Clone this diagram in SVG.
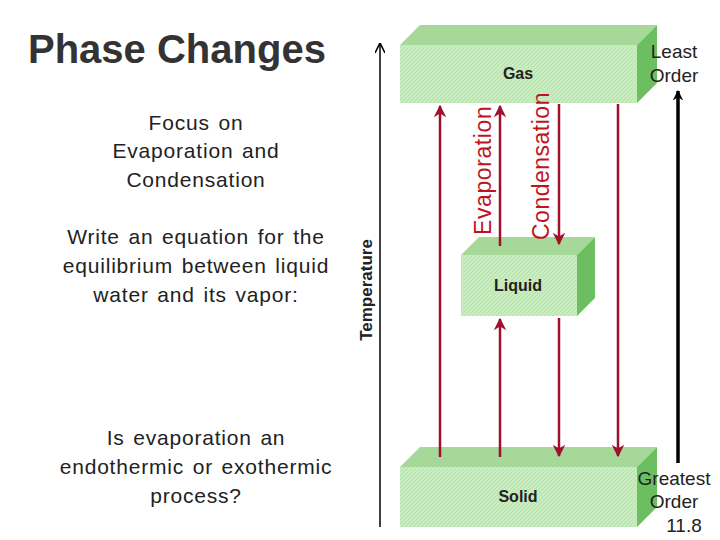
<svg xmlns="http://www.w3.org/2000/svg" width="720" height="540" viewBox="0 0 720 540">
<defs>
<pattern id="hatch" width="4" height="4" patternUnits="userSpaceOnUse"><rect width="4" height="4" fill="#c8eec0"/><path d="M0 4L4 0" stroke="#b4e0aa" stroke-width="1"/></pattern>
<marker id="ar" viewBox="0 0 10 10" refX="9" refY="5" markerWidth="5" markerHeight="5" orient="auto-start-reverse"><path d="M0 0L10 5L0 10L3 5z" fill="#a0102c"/></marker>
<marker id="ak" viewBox="0 0 10 10" refX="9" refY="5" markerWidth="7" markerHeight="7" orient="auto"><path d="M0 0L10 5L0 10" fill="none" stroke="#000" stroke-width="1.5"/></marker>
<marker id="ak2" viewBox="0 0 10 10" refX="9" refY="5" markerWidth="3" markerHeight="3" orient="auto"><path d="M0 0L10 5L0 10L3 5z" fill="#000"/></marker>
</defs>
<style>
.t{font-family:"Liberation Sans",Arial,sans-serif;font-size:21px;letter-spacing:0.8px;word-spacing:2px;fill:#222;text-anchor:middle}
.b{font-family:"Liberation Sans",Arial,sans-serif;font-weight:bold;font-size:16px;fill:#222;text-anchor:middle}
.r{font-family:"Liberation Sans",Arial,sans-serif;font-size:23px;fill:#c0141c}
.top{fill:#a6d89a}.side{fill:#6cbf60}.front{fill:url(#hatch)}
.rl{stroke:#a0102c;stroke-width:2.5;fill:none;marker-end:url(#ar)}
</style>
<rect width="720" height="540" fill="#fff"/>
<text x="28" y="63" style="font-family:'Liberation Sans',Arial,sans-serif;font-weight:bold;font-size:40px;fill:#333">Phase Changes</text>
<g class="t">
<text x="196" y="130">Focus on</text><text x="196" y="158">Evaporation and</text><text x="196" y="187">Condensation</text>
<text x="196" y="244">Write an equation for the</text><text x="196" y="273">equilibrium between liquid</text><text x="196" y="302">water and its vapor:</text>
<text x="196" y="445">Is evaporation an</text><text x="196" y="474">endothermic or exothermic</text><text x="196" y="503">process?</text>
</g>
<g id="gas"><polygon class="top" points="400,45 420,25 657,25 637,45"/><polygon class="side" points="637,45 657,25 657,83 637,103"/><rect class="front" x="400" y="45" width="237" height="58"/><text class="b" x="518" y="79">Gas</text></g>
<g id="liquid"><polygon class="top" points="461,255 479,237 595,237 577,255"/><polygon class="side" points="577,255 595,237 595,298 577,316"/><rect class="front" x="461" y="255" width="116" height="61"/><text class="b" x="518" y="291">Liquid</text></g>
<g id="solid"><polygon class="top" points="400,467 420,447 657,447 637,467"/><polygon class="side" points="637,467 657,447 657,507 637,527"/><rect class="front" x="400" y="467" width="237" height="60"/><text class="b" x="518" y="502">Solid</text></g>
<g id="connectors">
<line class="rl" x1="440" y1="457" x2="440" y2="106"/>
<line class="rl" x1="500" y1="457" x2="500" y2="319"/>
<line class="rl" x1="500" y1="246" x2="500" y2="106"/>
<line class="rl" x1="559" y1="104" x2="559" y2="244"/>
<line class="rl" x1="559" y1="318" x2="559" y2="456"/>
<line class="rl" x1="618" y1="104" x2="618" y2="456"/>
<line x1="380" y1="527" x2="380" y2="44" stroke="#000" stroke-width="1.5" marker-end="url(#ak)"/>
<line x1="678" y1="463" x2="678" y2="91" stroke="#000" stroke-width="3.5" marker-end="url(#ak2)"/>
</g>
<text transform="translate(372,290) rotate(-90)" class="b" style="font-size:17px">Temperature</text>
<text class="r" transform="translate(491,235) rotate(-90)" style="letter-spacing:0.6px">Evaporation</text>
<text class="r" transform="translate(549,240) rotate(-90)" style="letter-spacing:0.5px">Condensation</text>
<g class="t" style="font-size:19px;letter-spacing:0">
<text x="674" y="58">Least</text><text x="674" y="82">Order</text>
<text x="674" y="485">Greatest</text><text x="674" y="508">Order</text><text x="684" y="532">11.8</text>
</g>
</svg>
